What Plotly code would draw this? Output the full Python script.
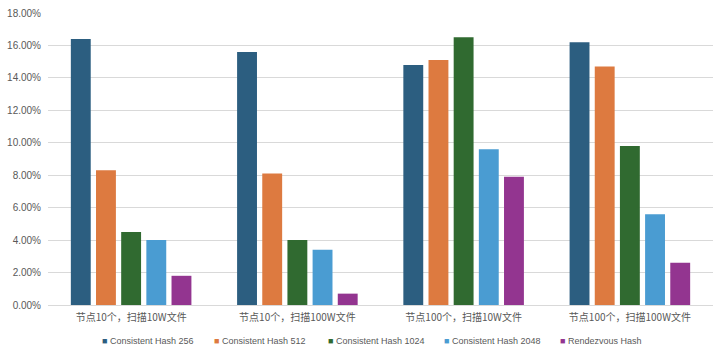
import plotly.graph_objects as go

categories = ["节点10个，扫描10W文件", "节点10个，扫描100W文件", "节点100个，扫描10W文件", "节点100个，扫描100W文件"]
series_names = ["Consistent Hash 256", "Consistent Hash 512", "Consistent Hash 1024", "Consistent Hash 2048", "Rendezvous Hash"]
ch256 = [16.4, 15.6, 14.8, 16.2]
ch512 = [8.3, 8.1, 15.1, 14.7]
ch1024 = [4.5, 4.0, 16.5, 9.8]
ch2048 = [4.0, 3.4, 9.6, 5.6]
rendezvous = [1.8, 0.7, 7.9, 2.6]
values = [ch256, ch512, ch1024, ch2048, rendezvous]
colors = ["#2C5E80", "#DD7A40", "#306A30", "#4A9CD2", "#933590"]
tick_vals = [0, 2, 4, 6, 8, 10, 12, 14, 16, 18]
tick_text = [f"{v:.2f}%" for v in tick_vals]
legend_x_px = [97, 210, 324, 441, 557]

W, H = 720, 353
ML, MR, MT, MB = 45, 7, 10, 48
pw = W - ML - MR
ph = H - MT - MB

fig = go.Figure()
for name, vals, c in zip(series_names, values, colors):
    fig.add_trace(go.Bar(x=categories, y=vals, name=name, marker_color=c, marker_line_width=0))

# manual legend (compact, as in reference)
for name, c, xp in zip(series_names, colors, legend_x_px):
    fig.add_annotation(
        xref="paper", yref="paper",
        x=(xp - ML) / pw, y=(H - MB - 341) / ph,
        xanchor="left", yanchor="middle", showarrow=False,
        text=f"<span style='color:{c};font-size:9px'>■</span> {name}",
        font=dict(size=9, color="#595959"),
    )

font_fam = "Liberation Sans, Noto Sans CJK SC, sans-serif"
fig.update_layout(
    width=W, height=H,
    margin=dict(l=ML, r=MR, t=MT, b=MB),
    paper_bgcolor="white", plot_bgcolor="white",
    barmode="group", bargap=0.243, bargroupgap=0.21,
    font=dict(family=font_fam, size=10, color="#595959"),
    showlegend=False,
    xaxis=dict(showgrid=False, showline=True, linecolor="#D9D9D9", linewidth=1,
               ticklabelstandoff=3,
               tickfont=dict(size=10, color="#595959", family="Noto Sans CJK SC, sans-serif"), ticks=""),
    yaxis=dict(range=[0, 18], tickvals=tick_vals, ticktext=tick_text, showgrid=True,
               gridcolor="#D9D9D9", gridwidth=1, zeroline=False, ticks="",
               ticklabelstandoff=6,
               tickfont=dict(size=10, color="#595959")),
)
fig.write_html("out.html")
